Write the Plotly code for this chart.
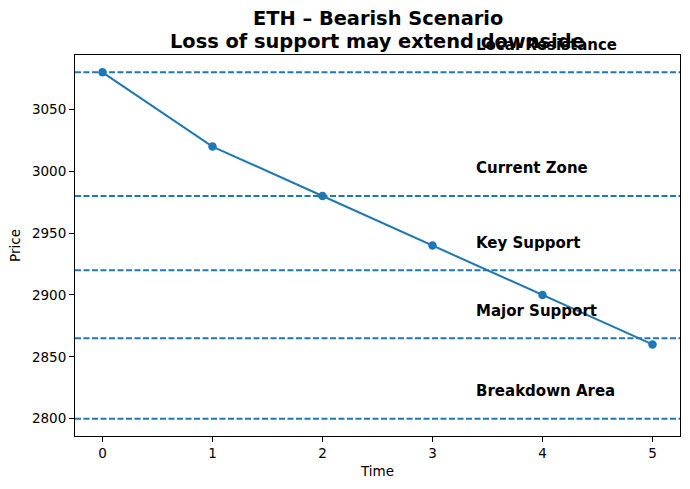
import plotly.graph_objects as go

time = [0, 1, 2, 3, 4, 5]
price = [3080, 3020, 2980, 2940, 2900, 2860]
level_values = [3080, 2980, 2920, 2865, 2800]
level_labels = ["Local Resistance", "Current Zone", "Key Support", "Major Support", "Breakdown Area"]
label_x = 3.4
label_offset = 20
title_lines = ["ETH – Bearish Scenario", "Loss of support may extend downside"]

BLUE = "#1f77b4"
FONT = "DejaVu Sans"
Y_RANGE = [2786, 3094]
X_RANGE = [-0.25, 5.25]

fig = go.Figure()
fig.add_trace(go.Scatter(
    x=time, y=price, mode="lines+markers",
    line=dict(color=BLUE, width=2),
    marker=dict(color=BLUE, size=8.5),
    showlegend=False,
))

for v, lab in zip(level_values, level_labels):
    fig.add_hline(y=v, line=dict(color=BLUE, width=2, dash="6px,2.5px"))
    fig.add_annotation(
        x=label_x, xref="x",
        y=(v + label_offset - Y_RANGE[0]) / (Y_RANGE[1] - Y_RANGE[0]), yref="y domain",
        text="<b>" + lab + "</b>", showarrow=False,
        xanchor="left", yanchor="bottom", yshift=-8, xshift=-3,
        font=dict(family=FONT, size=15, color="black"),
    )

for yy, line in zip([1.0971, 1.0367], title_lines):
    fig.add_annotation(
        x=0.5, xref="paper", y=yy, yref="paper",
        text="<b>" + line + "</b>", showarrow=False,
        xanchor="center", yanchor="middle",
        font=dict(family=FONT, size=19.4, color="black"),
    )

fig.update_layout(
    width=690, height=489,
    margin=dict(l=74.5, r=9.5, t=55, b=53),
    paper_bgcolor="white", plot_bgcolor="white",
    font=dict(family=FONT, size=13.5, color="black"),
    hovermode=False,
)

axis_common = dict(
    showgrid=False, zeroline=False, showline=True, linecolor="black", linewidth=1,
    mirror=True, ticks="outside", ticklen=5, tickwidth=1, tickcolor="black",
    tickfont=dict(family=FONT, size=13.5, color="black"),
)
fig.update_xaxes(range=X_RANGE, tickvals=time,
                 title=dict(text="Time", font=dict(family=FONT, size=13.5), standoff=6),
                 **axis_common)
fig.update_yaxes(range=Y_RANGE, tickvals=[2800, 2850, 2900, 2950, 3000, 3050],
                 title=dict(text="Price", font=dict(family=FONT, size=13.5), standoff=8),
                 **axis_common)

fig.write_html("out.html", config={"displayModeBar": False},
               post_script="document.body.style.margin='0';document.body.style.overflow='hidden';")
